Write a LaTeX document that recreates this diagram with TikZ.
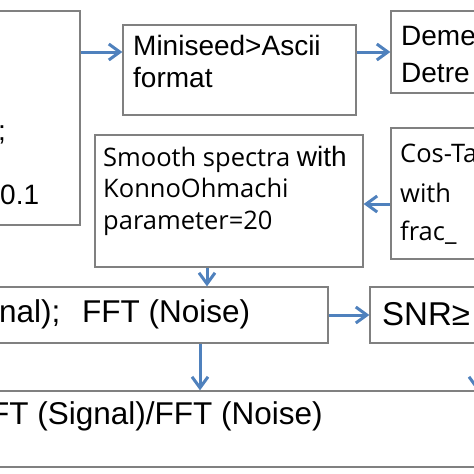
\documentclass[tikz,border=0pt]{standalone}
\usepackage{fontspec}
\setmainfont{Liberation Sans}
\newfontfamily\jpsans{Open Sans}
\usetikzlibrary{arrows.meta,fit}
\definecolor{boxgray}{HTML}{808080}
\definecolor{arrblue}{HTML}{4F81BD}

\begin{document}
\begin{tikzpicture}[x=1pt,y=-1pt,
  box/.style={draw=boxgray,line width=1.3pt,inner sep=0pt},
  txt/.style={inner sep=0pt,anchor=base west,font=\fontsize{28}{32}\selectfont},
  big/.style={txt,font=\fontsize{31.5}{36}\selectfont},
  jp/.style={txt,font=\jpsans\fontsize{25.5}{30}\selectfont},
  arr/.style={arrblue,line width=3pt,-{Straight Barb[length=11pt,width=16pt]}}]
\useasboundingbox[fill=white] (0,0) rectangle (474,474);
\clip (0,0) rectangle (474,474);
\node[box,fit={(-30,11) (80,225)}] (raw) {};
\node[box,fit={(123,25) (356,115)}] (conv) {};
\node[box,fit={(391,11) (520,93)}] (demean) {};
\node[box,fit={(95,135) (363,267)}] (smooth) {};
\node[box,fit={(391,128) (520,259)}] (taper) {};
\node[box,fit={(-30,287) (328,343)}] (fft) {};
\node[box,fit={(370,287) (520,343)}] (snr) {};
\node[box,fit={(-30,391) (520,467)}] (ratio) {};
\node[txt] (raw1) at (-2,140) {;};
\node[txt] (raw2) at (0,204) {0.1};
\node[txt] (conv1) at (133,55) {Miniseed>Ascii};
\node[txt] (conv2) at (133,87) {format};
\node[txt] (demean1) at (401,45) {Deme};
\node[txt] (demean2) at (401,82) {Detre};
\node[jp] (smooth1) at (103,166) {Smooth spectra \fontsize{28}{32}\rmfamily with};
\node[jp] (smooth2) at (103,197) {KonnoOhmachi};
\node[jp] (smooth3) at (103,229) {parameter=20};
\node[jp] (taper1) at (400,162) {Cos-Ta};
\node[jp] (taper2) at (400,202) {with};
\node[jp] (taper3) at (400,240) {frac\_};
\node[big] (fft1) at (-1,322) {nal);};
\node[big] (fft2) at (82,322) {FFT (Noise)};
\node[txt,font=\fontsize{33}{38}\selectfont] (snr1) at (382,325) {SNR≥};
\node[big] (ratio1) at (-10,424) {FT (Signal)/FFT (Noise)};
\draw[arr] (raw.east |- 0,52) -- (conv.west |- 0,52);
\draw[arr] (conv.east |- demean.west) -- (demean.west);
\draw[arr] (taper.west |- 0,204) -- (smooth.east |- 0,204);
\draw[arr] (smooth.south -| 207,0) -- (fft.north -| 207,0);
\draw[arr] (fft.east) -- (snr.west |- fft.east);
\draw[arr] (fft.south -| 200,0) -- (ratio.north -| 200,0);
\draw[arr] (snr.south -| 477,0) -- (ratio.north -| 477,0);
\end{tikzpicture}
\end{document}
